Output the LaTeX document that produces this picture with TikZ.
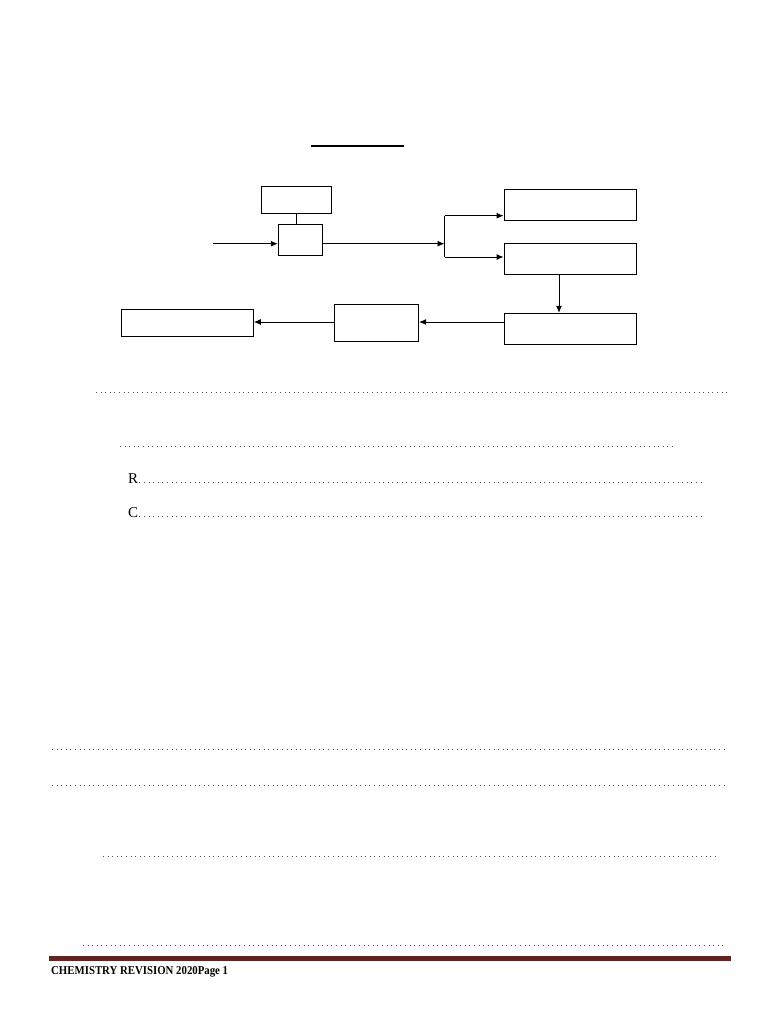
\documentclass[tikz,border=0pt]{standalone}
\usepackage{fontspec}
\usepackage{graphicx}
\setmainfont{Liberation Serif}
\usetikzlibrary{arrows.meta}
\tikzset{
  box/.style={draw, line width=0.9pt, inner sep=0pt},
  arr/.style={line width=0.9pt, -{Latex[length=7pt,width=6pt]}},
  plain/.style={line width=0.9pt},
  dotline/.style={line width=1pt, dash pattern=on 1pt off 3.6pt, black!70},
}
\begin{document}
\begin{tikzpicture}[x=1pt,y=-1pt]
\useasboundingbox (0,0) rectangle (768,1024);
\fill[white] (0,0) rectangle (768,1024);
% title underline
\coordinate (t1) at (311,146.5);
\coordinate (t2) at (404,146.5);
\draw[line width=2pt] (t1) -- (t2);
% boxes
\node[box, minimum width=70pt, minimum height=26.6pt] (top) at (296.7,200) {};
\node[box, minimum width=44.5pt, minimum height=31pt] (small) at (300.5,239.5) {};
\node[box, minimum width=132pt, minimum height=31pt] (r1) at (570,205.2) {};
\node[box, minimum width=132pt, minimum height=31pt] (r2) at (570,259.2) {};
\node[box, minimum width=132pt, minimum height=31pt] (r3) at (570,328.8) {};
\node[box, minimum width=84.6pt, minimum height=37.4pt] (mid) at (376.3,323) {};
\node[box, minimum width=131.7pt, minimum height=27pt] (left) at (187.5,323.2) {};
% connectors
\coordinate (in) at (213.4,243.7);
\coordinate (split) at (444.5,243.7);
\coordinate (splitT) at (444.5,215.7);
\coordinate (splitB) at (444.5,257);
\coordinate (low) at (460,322);
\draw[plain] (top.south) -- (top.south |- small.north);
\draw[arr] (in) -- (in -| small.west);
\draw[arr] (small.east |- in) -- (split);
\draw[plain] (splitT) -- (splitB);
\draw[arr] (splitT) -- (splitT -| r1.west);
\draw[arr] (splitB) -- (splitB -| r2.west);
\draw[arr] ([xshift=-11pt]r2.south) -- ([xshift=-11pt]r3.north);
\draw[arr] (r3.west |- low) -- (mid.east |- low);
\draw[arr] (mid.west |- low) -- (left.east |- low);
% dotted answer lines
\draw[dotline] (96,392) -- (727,392);
\draw[dotline] (120,446) -- (675,446);
\node[anchor=base west, inner sep=0pt, font=\fontsize{15}{18}\selectfont] (R) at (128,483.3) {R};
\node[anchor=base west, inner sep=0pt, font=\fontsize{15}{18}\selectfont] (C) at (128,517.7) {C};
\coordinate (rend) at (704,0);
\draw[dotline] ([xshift=1pt,yshift=0.8pt]R.base east) -- ([yshift=0.8pt]R.base east -| rend);
\draw[dotline] ([xshift=1pt,yshift=0.8pt]C.base east) -- ([yshift=0.8pt]C.base east -| rend);
\draw[dotline] (52,749) -- (727,749);
\draw[dotline] (52,785) -- (727,785);
\draw[dotline] (103,856) -- (718,856);
\draw[dotline] (83,945) -- (727,945);
% footer
\fill[fill={rgb,255:red,98;green,36;blue,35}] (49,955.5) rectangle (731,960.5);
\node[anchor=base west, inner sep=0pt, font=\fontsize{12}{14}\selectfont\bfseries] (foot) at (51,974) {\scalebox{0.9}[1]{CHEMISTRY REVISION 2020Page 1}};
\end{tikzpicture}
\end{document}
